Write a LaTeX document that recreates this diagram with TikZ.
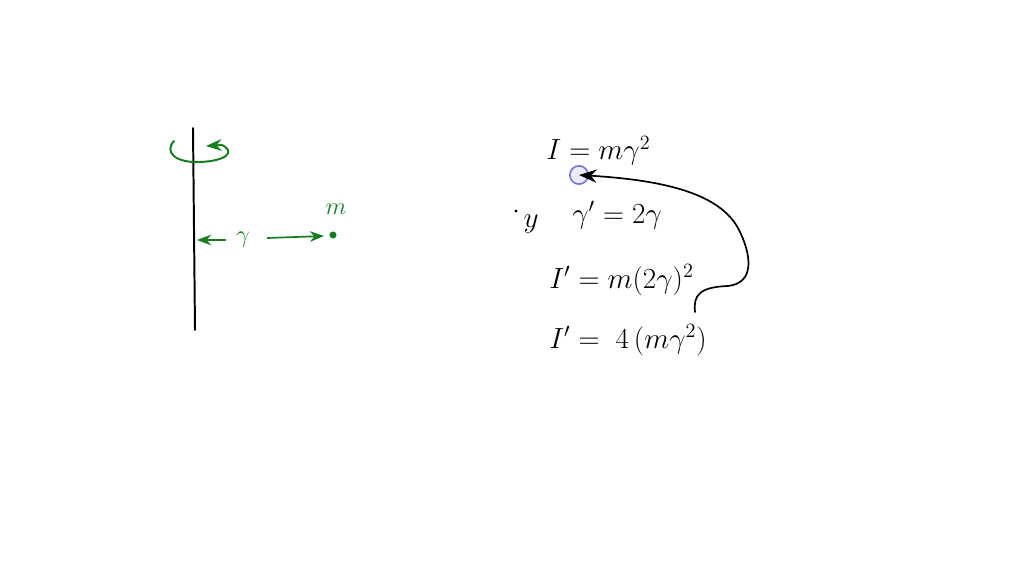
\documentclass[tikz,border=0pt]{standalone}
\usetikzlibrary{arrows.meta}
\definecolor{pen}{RGB}{20,125,30}
\definecolor{cursor}{RGB}{120,120,220}
\tikzset{
  eqn/.style={font=\fontsize{21}{25}\selectfont,inner sep=0pt},
  lbl/.style={font=\fontsize{17}{20}\selectfont,text=pen,inner sep=1pt},
}
\begin{document}
\begin{tikzpicture}[x=0.025cm,y=-0.025cm,line join=round,line cap=round,>={Stealth[scale=1.2]}]
\useasboundingbox (0,0) rectangle (1024,576);
% axis of rotation
\draw[line width=1.4pt] (193,128)--(195,330);
\draw[pen,line width=1.4pt,->] (174,141) .. controls (164,152) and (175,163) .. (200,162)
   .. controls (226,161) and (236,152) .. (222,145) -- (206,146);
% mass and distance
\fill[pen] (333,235) circle(2.5pt);
\node[lbl] (mlabel) at (336,209) {$m$};
\node[lbl] (rlabel) at (243,240) {$\gamma$};
\coordinate (axisr) at (197,240);
\coordinate (mass) at (324,236);
\draw[pen,line width=1.2pt,->] (rlabel.west)++(-9,0) -- (axisr);
\draw[pen,line width=1.2pt,->] (rlabel.east)++(16,-2) -- (mass);
% equations
\node[eqn,anchor=west] (eqA) at (546,151) {$I = m\gamma^2$};
\fill (516,211) circle(1.1pt);
\node[eqn] (ify) at (531,224) {$y$};
\node[eqn,anchor=west] (eqB) at (572,215) {$\gamma' = 2\gamma$};
\node[eqn,anchor=west] (eqC) at (549,280) {$I' = m(2\gamma)^2$};
\node[eqn,anchor=west] (eqD) at (549,340) {$I' = \;4\,(m\gamma^2)$};
\node[draw=cursor,line width=1.2pt,fill=cursor!15,circle,minimum size=13pt,inner sep=0pt] (cur) at (579,175) {};
\coordinate (tail) at (695,312);
\draw[line width=1.2pt,-{Stealth[scale=1.5]}] (tail) .. controls (693,295) and (700,287) .. (728,286)
  .. controls (755,283) and (752,255) .. (738,228)
  .. controls (718,192) and (660,180) .. (cur.center);
\end{tikzpicture}
\end{document}
